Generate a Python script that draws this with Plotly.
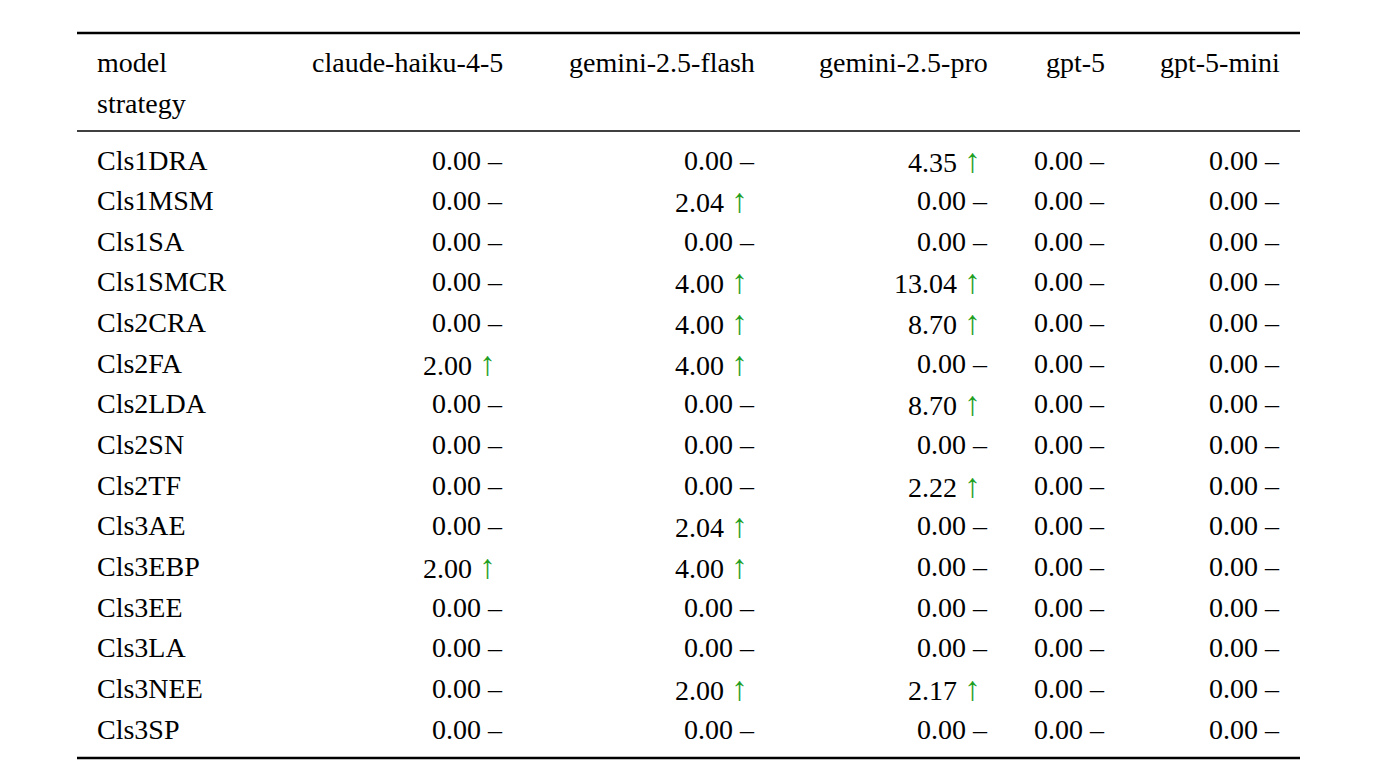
import plotly.graph_objects as go

# Table data
strategies = ["Cls1DRA", "Cls1MSM", "Cls1SA", "Cls1SMCR", "Cls2CRA", "Cls2FA", "Cls2LDA",
              "Cls2SN", "Cls2TF", "Cls3AE", "Cls3EBP", "Cls3EE", "Cls3LA", "Cls3NEE", "Cls3SP"]
models = ["claude-haiku-4-5", "gemini-2.5-flash", "gemini-2.5-pro", "gpt-5", "gpt-5-mini"]

claude_haiku = [0, 0, 0, 0, 0, 2.00, 0, 0, 0, 0, 2.00, 0, 0, 0, 0]
gemini_flash = [0, 2.04, 0, 4.00, 4.00, 4.00, 0, 0, 0, 2.04, 4.00, 0, 0, 2.00, 0]
gemini_pro = [4.35, 0, 0, 13.04, 8.70, 0, 8.70, 0, 2.22, 0, 0, 0, 0, 2.17, 0]
gpt5 = [0] * 15
gpt5_mini = [0] * 15
values = [claude_haiku, gemini_flash, gemini_pro, gpt5, gpt5_mini]

FONT = "Liberation Serif, Times New Roman, serif"
SIZE = 28
GREEN = "#1f9e1f"

col_right = [505, 757, 990, 1107, 1282]
row_y0, row_step = 160, 40.65

ann = []
def add(x, y, text, anchor, size=SIZE):
    ann.append(dict(x=x, y=y, xref="x", yref="y", text=text, showarrow=False,
                    xanchor=anchor, yanchor="middle", font=dict(family=FONT, size=size, color="black")))

add(95, 62, "model", "left")
add(95, 103, "strategy", "left")
for m, xr in zip(models, col_right):
    add(xr, 62, m, "right")

for i, s in enumerate(strategies):
    y = row_y0 + i * row_step
    add(95, y, s, "left")
    for vals, xr in zip(values, col_right):
        v = vals[i]
        if v > 0:
            t = f"{v:.2f} <span style='color:{GREEN};font-size:34px'>↑</span>"
            add(xr - 7, y, t, "right")
        else:
            add(xr, y, f"{v:.2f} –", "right")

fig = go.Figure()
fig.add_trace(go.Scatter(x=[0, 1385], y=[0, 763], mode="markers", marker=dict(opacity=0), hoverinfo="skip"))
for y, w in [(33, 2.5), (131, 1.5), (758, 2.5)]:
    fig.add_shape(type="line", x0=77, x1=1300, y0=y, y1=y, xref="x", yref="y", line=dict(color="black", width=w))

fig.update_layout(
    width=1385, height=763, margin=dict(l=0, r=0, t=0, b=0),
    paper_bgcolor="white", plot_bgcolor="white", showlegend=False,
    annotations=ann,
    xaxis=dict(range=[8, 1393], visible=False),
    yaxis=dict(range=[771, 8], visible=False),
)
fig.write_html("out.html")
